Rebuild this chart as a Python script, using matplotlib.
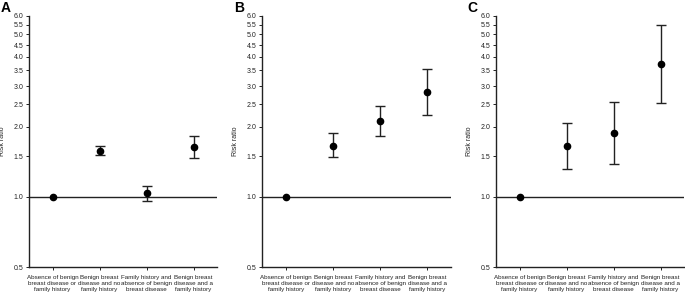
import matplotlib
matplotlib.use("Agg")
import matplotlib.pyplot as plt
from matplotlib.ticker import FixedLocator, FixedFormatter, NullLocator

plt.rcParams['font.family'] = ['Liberation Sans', 'DejaVu Sans']

categories = ["Absence of benign\nbreast disease or\nfamily history",
              "Benign breast\ndisease and no\nfamily history",
              "Family history and\nabsence of benign\nbreast disease",
              "Benign breast\ndisease and a\nfamily history"]
panels = ["A", "B", "C"]

# risk ratio, lower CI, upper CI for each panel
rr = [[1.00, 1.58, 1.04, 1.645],
      [1.00, 1.66, 2.12, 2.82],
      [1.00, 1.66, 1.88, 3.72]]
lo = [[1.00, 1.51, 0.96, 1.47],
      [1.00, 1.49, 1.82, 2.26],
      [1.00, 1.32, 1.38, 2.53]]
hi = [[1.00, 1.66, 1.12, 1.83],
      [1.00, 1.88, 2.46, 3.54],
      [1.00, 2.08, 2.56, 5.50]]

yticks = [0.5, 1.0, 1.5, 2.0, 2.5, 3.0, 3.5, 4.0, 4.5, 5.0, 5.5, 6.0]

fig = plt.figure(figsize=(6.85, 3.01), dpi=100)
lefts = [29, 262, 496]
widths = [188, 189, 188]
letter_x = [1, 234, 467]
dark = "#222222"

for i in range(3):
    ax = fig.add_axes([lefts[i] / 685, 1 - 267 / 301, widths[i] / 685, (267 - 16) / 301])
    x = [k + 0.5 for k in range(4)]
    yerr = [[r - l for r, l in zip(rr[i], lo[i])], [h - r for r, h in zip(rr[i], hi[i])]]
    ax.axhline(1.0, color=dark, lw=1.0, zorder=1)
    ax.errorbar(x[1:], rr[i][1:], yerr=[yerr[0][1:], yerr[1][1:]], fmt='o', color='black',
                ecolor=dark, elinewidth=1.0, capsize=3.5, capthick=1.0, markersize=4.5, zorder=3)
    ax.plot(x[0], rr[i][0], 'o', color='black', markersize=4.5, zorder=3)
    ax.set_yscale('log')
    ax.set_ylim(0.5, 6.0)
    ax.set_xlim(0, 4)
    ax.yaxis.set_major_locator(FixedLocator(yticks))
    ax.yaxis.set_major_formatter(FixedFormatter(["%.1f" % t for t in yticks]))
    ax.yaxis.set_minor_locator(NullLocator())
    ax.set_xticks(x)
    ax.set_xticklabels(categories, fontsize=4.5, linespacing=1.2)
    ax.tick_params(axis='y', labelsize=5.0, length=2, width=0.7, pad=2, colors=dark)
    ax.tick_params(axis='x', length=2, width=0.7, pad=4, colors=dark)
    for s in ['top', 'right']:
        ax.spines[s].set_visible(False)
    for s in ['left', 'bottom']:
        ax.spines[s].set_color(dark)
        ax.spines[s].set_linewidth(1.0)
    ax.set_ylabel("Risk ratio", fontsize=5.0, color=dark)
    ax.yaxis.set_label_coords(-0.12, 0.5)
    fig.text(letter_x[i] / 685, 1 - 1 / 301, panels[i], fontsize=10,
             fontweight='bold', va='top', ha='left')

fig.savefig("out.png", dpi=100)
